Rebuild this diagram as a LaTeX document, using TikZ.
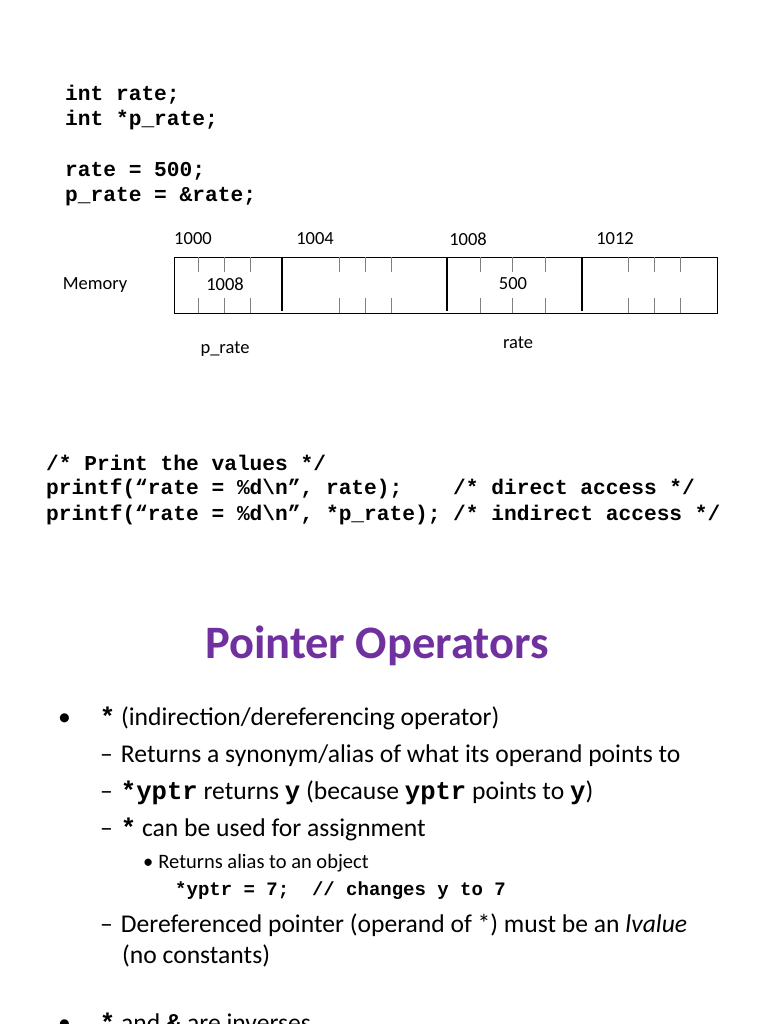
\documentclass[tikz,border=0pt]{standalone}
\usepackage{fontspec}
\setmainfont{Carlito}
\newfontfamily\cmono{Liberation Mono}
\definecolor{ttl}{HTML}{7030A0}
\begin{document}
\begin{tikzpicture}[x=1pt,y=-1pt,
  code/.style={anchor=west,inner sep=0pt,font=\cmono\bfseries\fontsize{21.2}{24}\selectfont},
  lab/.style={inner sep=0pt,font=\fontsize{18.5}{22}\selectfont},
  big/.style={anchor=west,inner sep=0pt,font=\fontsize{25.6}{30}\selectfont},
  tick/.style={draw=gray,line width=0.6pt},
  div/.style={draw=black,line width=1.8pt}]
\useasboundingbox (0,0) rectangle (768,1024);
\node[code] (c1) at (65,95) {int rate;};
\node[code] (c2) at (65,120) {int *p\_rate;};
\node[code] (c3) at (65,171) {rate = 500;};
\node[code] (c4) at (65,197) {p\_rate = \&rate;};
\node[lab] (a0) at (193,239) {1000};
\node[lab] (a1) at (315,239) {1004};
\node[lab] (a2) at (468,239) {1008};
\node[lab] (a3) at (615,239) {1012};
\node[lab] (mem) at (95,285) {Memory};
\draw[line width=0.8pt] (174,257) rectangle (717,313);
\foreach \x in {198,224,250,339,365,391,480,512,545,628,654,680}{
  \draw[tick] (\x,257) -- (\x,272); \draw[tick] (\x,298) -- (\x,313);}
\foreach \x in {282,447,582}{\draw[div] (\x,257) -- (\x,311);}
\node[lab] (v1) at (225,284) {1008};
\node[lab] (v2) at (513,284) {500};
\node[lab] (n1) at (225,349) {p\_rate};
\node[lab] (n2) at (518,343) {rate};
\node[code] (p1) at (46,463) {/* Print the values */};
\node[code] (p2) at (46,489) {printf(“rate = \%d\textbackslash n”, rate);~~~~/* direct access */};
\node[code] (p3) at (46,515) {printf(“rate = \%d\textbackslash n”, *p\_rate); /* indirect access */};
\node[inner sep=0pt,text=ttl,font=\bfseries\fontsize{46.5}{54}\selectfont] (t) at (377,646) {Pointer Operators};
\node[big] (b1) at (58,718) {•\hspace{29pt}{\cmono\bfseries *} (indirection/dereferencing operator)};
\node[big] (d1) at (100,756) {–\hspace{8pt}Returns a synonym/alias of what its operand points to};
\node[big] (d2) at (100,793) {–\hspace{8pt}{\cmono\bfseries *yptr} returns {\cmono\bfseries y} (because {\cmono\bfseries yptr} points to {\cmono\bfseries y})};
\node[big] (d3) at (100,829) {–\hspace{8pt}{\cmono\bfseries *} can be used for assignment};
\node[anchor=west,inner sep=0pt,font=\fontsize{20.5}{24}\selectfont] (s1) at (143,863) {•\hspace{5pt}Returns alias to an object};
\node[anchor=west,inner sep=0pt,font=\cmono\bfseries\fontsize{19}{22}\selectfont] (s2) at (175,891) {*yptr = 7;~~// changes y to 7};
\node[big] (d4) at (100,925) {–\hspace{8pt}Dereferenced pointer (operand of *) must be an \textit{lvalue}};
\node[big] (d5) at (122,956) {(no constants)};
\node[big] (b2) at (58,1022) {•\hspace{29pt}{\cmono\bfseries *} and {\cmono\bfseries \&} are inverses};
\end{tikzpicture}
\end{document}
